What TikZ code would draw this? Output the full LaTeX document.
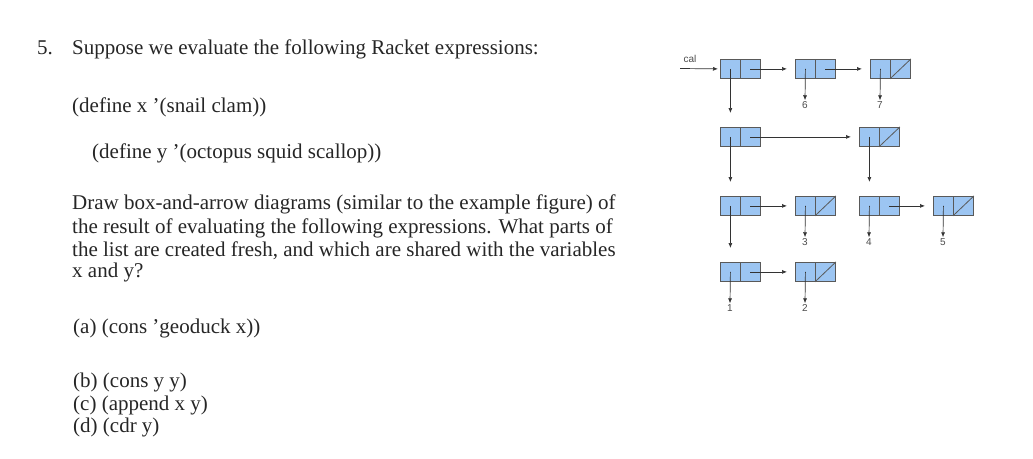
\documentclass[tikz,border=0pt]{standalone}
\usepackage{fontspec}
\setmainfont{Liberation Serif}
\setsansfont{Liberation Sans}
\usetikzlibrary{arrows.meta}
\begin{document}
\begin{tikzpicture}[x=1pt,y=-1pt,
  txt/.style={anchor=base west,inner sep=0pt,font=\fontsize{21}{23}\selectfont,text=black!85},
  cell/.style={draw=black!65,fill=cellblue,minimum width=20pt,minimum height=19pt,inner sep=0pt,line width=0.8pt},
  ptr/.style={-{Latex[length=5pt,width=4pt]},draw=black!80,line width=0.7pt},
  num/.style={font=\sffamily\fontsize{10}{11}\selectfont,text=black!70,inner sep=1pt},
  lbl/.style={font=\sffamily\fontsize{10}{11}\selectfont,text=black!70,inner sep=0pt}]
\definecolor{cellblue}{HTML}{9CC5F2}
\useasboundingbox (0,0) rectangle (1033,458);
\fill[white] (0,0) rectangle (1033,458);
% text
\node[txt] (n5) at (37,54) {5.};
\node[txt] (t1) at (72,54) {Suppose we evaluate the following Racket expressions:};
\node[txt] (t2) at (72,112) {(define x ’(snail clam))};
\node[txt] (t3) at (92,158) {(define y ’(octopus squid scallop))};
\node[txt] (t4) at (72,209) {Draw box-and-arrow diagrams (similar to the example figure) of};
\node[txt] (t5) at (72,233) {the result of evaluating the following expressions. What parts of};
\node[txt] (t6) at (72,256) {the list are created fresh, and which are shared with the variables};
\node[txt] (t7) at (72,277) {x and y?};
\node[txt] (ta) at (73,333) {(a) (cons ’geoduck x))};
\node[txt] (tb) at (73,387) {(b) (cons y y)};
\node[txt] (tc) at (73,410) {(c) (append x y)};
\node[txt] (td) at (73,432) {(d) (cdr y)};
% pairs
\newcommand{\mkpair}[4]{%
  \node[cell,anchor=north west] (#1L) at (#2,#3) {};
  \node[cell,anchor=north west] (#1R) at (#2+20,#3) {};
  \ifx#4n\draw[black!65,line width=0.8pt] (#1R.south west) -- (#1R.north east);\fi}
\mkpair{p1}{720}{59}{c}
\mkpair{p2}{795}{59}{c}
\mkpair{p3}{870}{59}{n}
\mkpair{p4}{720}{127}{c}
\mkpair{p5}{859}{127}{n}
\mkpair{p6}{720}{196}{c}
\mkpair{p7}{795}{196}{n}
\mkpair{p8}{859}{196}{c}
\mkpair{p9}{933}{196}{n}
\mkpair{p10}{720}{262}{c}
\mkpair{p11}{795}{262}{n}
% labels
\node[lbl] (cal) at (690,59) {cal};
\coordinate (calstart) at (680,68.5);
\node[num] (v6) at (805,105) {6};
\node[num] (v7) at (880,105) {7};
\node[num] (v3) at (805,242) {3};
\node[num] (v4) at (869,242) {4};
\node[num] (v5) at (943,242) {5};
\node[num] (v1) at (730,308) {1};
\node[num] (v2) at (805,308) {2};
% pointers
\draw[ptr,shorten >=2pt] (calstart) -- (p1L.west);
\draw[ptr] (p1R.center) -- ([xshift=-8pt]p2L.west);
\draw[ptr] (p2R.center) -- ([xshift=-8pt]p3L.west);
\draw[ptr] (p4R.center) -- ([xshift=-8pt]p5L.west);
\draw[ptr] (p6R.center) -- ([xshift=-8pt]p7L.west);
\draw[ptr] (p8R.center) -- ([xshift=-8pt]p9L.west);
\draw[ptr] (p10R.center) -- ([xshift=-8pt]p11L.west);
\draw[ptr] (p1L.center) -- ([yshift=14pt]p4L.north);
\draw[ptr] (p4L.center) -- ([yshift=14pt]p6L.north);
\draw[ptr] (p6L.center) -- ([yshift=14pt]p10L.north);
\draw[ptr] (p5L.center) -- ([yshift=14pt]p8L.north);
\draw[ptr] (p2L.center) -- (v6.north);
\draw[ptr] (p3L.center) -- (v7.north);
\draw[ptr] (p7L.center) -- (v3.north);
\draw[ptr] (p8L.center) -- (v4.north);
\draw[ptr] (p9L.center) -- (v5.north);
\draw[ptr] (p10L.center) -- (v1.north);
\draw[ptr] (p11L.center) -- (v2.north);
\end{tikzpicture}
\end{document}
